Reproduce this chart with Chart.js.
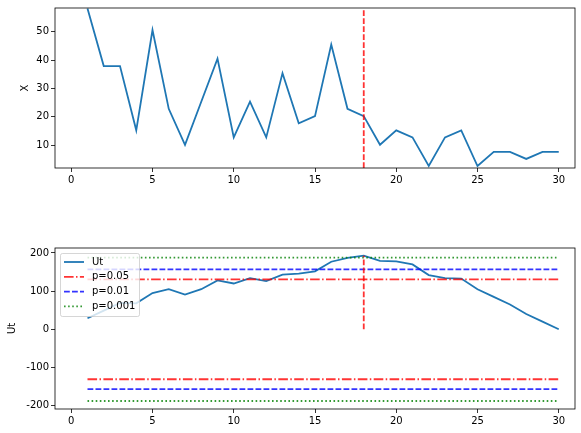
<!DOCTYPE html>
<html>
<head>
<meta charset="utf-8">
<script src="https://cdn.jsdelivr.net/npm/chart.js@4.4.0/dist/chart.umd.min.js"></script>
<style>
html, body { margin: 0; padding: 0; background: #fff; }
#wrap { position: relative; width: 581px; height: 433px; }
canvas { position: absolute; left: 0; }
#topChart { top: 0; }
#bottomChart { top: 215px; }
</style>
</head>
<body>
<div id="wrap">
    <canvas id="topChart" width="581" height="215"></canvas>
    <canvas id="bottomChart" width="581" height="218"></canvas>
</div>
<script>
// data
const t = [1, 2, 3, 4, 5, 6, 7, 8, 9, 10, 11, 12, 13, 14, 15, 16, 17, 18, 19, 20, 21, 22, 23, 24, 25, 26, 27, 28, 29, 30];
const xValues = [58.2, 37.9, 37.9, 15.2, 50.6, 22.8, 10.1, 25.3, 40.5, 12.7, 25.3, 12.7, 35.4, 17.7, 20.2,
                 45.5, 22.8, 20.2, 10.1, 15.2, 12.7, 2.6, 12.7, 15.2, 2.6, 7.6, 7.6, 5.1, 7.6, 7.6];
const utValues = [29, 49, 69, 68, 95, 105, 91, 105, 128, 120, 134, 126, 143, 146, 152,
                  177, 187, 193, 179, 178, 170, 142, 134, 133, 105, 85, 65, 40, 20, 0];
const changePoint = 18;
const pLabels = ["p=0.05", "p=0.01", "p=0.001"];
const pLevels = [131, 157, 188];

const xTicks = [0, 5, 10, 15, 20, 25, 30];
const topYTicks = [10, 20, 30, 40, 50];
const bottomYTicks = [-200, -100, 0, 100, 200];

const FONT = "'DejaVu Sans', sans-serif";
const BLUE_LINE = "#1f77b4";
const LW = 1.8;
const pColors = ["rgba(255,0,0,0.8)", "rgba(0,0,255,0.8)", "rgba(0,128,0,0.8)"];
const pDashes = [[9.6, 2.4, 1.5, 2.4], [5.8, 2.2], [1.6, 2.5]];

Chart.defaults.font.family = FONT;
Chart.defaults.font.size = 10;
Chart.defaults.color = "#000";

// frame + axis label, drawn like matplotlib spines
const framePlugin = {
    id: "frame",
    afterDraw(chart, args, opts) {
        const ctx = chart.ctx;
        const a = chart.chartArea;
        ctx.save();
        ctx.strokeStyle = "#000";
        ctx.lineWidth = 0.8;
        ctx.strokeRect(a.left, a.top, a.right - a.left, a.bottom - a.top);
        ctx.translate(opts.labelX, (a.top + a.bottom) / 2);
        ctx.rotate(-Math.PI / 2);
        ctx.font = "10px " + FONT;
        ctx.fillStyle = "#000";
        ctx.textAlign = "center";
        ctx.textBaseline = "middle";
        ctx.fillText(opts.label, 0, 0);
        ctx.restore();
    }
};

// legend box inside the plot (upper left)
const boxLegend = {
    id: "boxLegend",
    afterDraw(chart, args, opts) {
        if (!opts.items) return;
        const ctx = chart.ctx;
        const a = chart.chartArea;
        const x0 = a.left + 5, y0 = a.top + 5, w = 79, h = 63;
        ctx.save();
        ctx.fillStyle = "rgba(255,255,255,0.8)";
        ctx.strokeStyle = "rgba(204,204,204,0.8)";
        ctx.lineWidth = 1;
        ctx.beginPath();
        ctx.roundRect(x0 + 0.5, y0 + 0.5, w, h, 2);
        ctx.fill();
        ctx.stroke();
        ctx.font = "10px " + FONT;
        ctx.textBaseline = "middle";
        opts.items.forEach((it, i) => {
            const y = y0 + 9 + i * 14.8;
            ctx.strokeStyle = it.color;
            ctx.lineWidth = LW;
            ctx.setLineDash(it.dash);
            ctx.beginPath();
            ctx.moveTo(x0 + 4, y);
            ctx.lineTo(x0 + 24, y);
            ctx.stroke();
            ctx.setLineDash([]);
            ctx.fillStyle = "#000";
            ctx.fillText(it.text, x0 + 32, y);
        });
        ctx.restore();
    }
};

function xScale(height) {
    return {
        type: "linear",
        min: -1,
        max: 31,
        afterBuildTicks: s => { s.ticks = xTicks.map(v => ({ value: v })); },
        afterFit: s => { s.height = height; },
        grid: { drawOnChartArea: false, drawTicks: true, tickLength: 4, color: "#000", lineWidth: 0.8 },
        border: { display: false },
        ticks: { padding: 2, maxRotation: 0 }
    };
}

function yScale(min, max, ticks) {
    return {
        type: "linear",
        min: min,
        max: max,
        afterBuildTicks: s => { s.ticks = ticks.map(v => ({ value: v })); },
        afterFit: s => { s.width = 55; },
        grid: { drawOnChartArea: false, drawTicks: true, tickLength: 4, color: "#000", lineWidth: 0.8 },
        border: { display: false },
        ticks: { padding: 2 }
    };
}

function line(data, color, dash, order) {
    return {
        data: data,
        borderColor: color,
        borderWidth: LW,
        borderDash: dash,
        pointRadius: 0,
        tension: 0,
        fill: false,
        order: order
    };
}

const pts = vals => t.map((x, i) => ({ x: x, y: vals[i] }));

const topMin = 1.9, topMax = 58.4;

new Chart("topChart", {
    type: "line",
    data: {
        datasets: [
            line(pts(xValues), BLUE_LINE, [], 2),
            line([{ x: changePoint, y: topMin }, { x: changePoint, y: topMax }], "rgba(255,0,0,0.8)", [5.8, 2.2], 1)
        ]
    },
    options: {
        responsive: false,
        animation: false,
        layout: { padding: { top: 7, right: 6, left: 0, bottom: 0 } },
        scales: { x: xScale(47), y: yScale(topMin, topMax, topYTicks) },
        plugins: {
            legend: { display: false },
            tooltip: { enabled: false },
            frame: { label: "X", labelX: 25 }
        }
    },
    plugins: [framePlugin]
});

const hDatasets = [];
pLevels.forEach((lv, i) => {
    hDatasets.push(line([{ x: t[0], y: lv }, { x: t[t.length - 1], y: lv }], pColors[i], pDashes[i], 3));
    hDatasets.push(line([{ x: t[0], y: -lv }, { x: t[t.length - 1], y: -lv }], pColors[i], pDashes[i], 3));
});

new Chart("bottomChart", {
    type: "line",
    data: {
        datasets: [
            line(pts(utValues), BLUE_LINE, [], 4),
            ...hDatasets,
            line([{ x: changePoint, y: 0 }, { x: changePoint, y: utValues[t.indexOf(changePoint)] }], "rgba(255,0,0,0.8)", [5.8, 2.2], 1)
        ]
    },
    options: {
        responsive: false,
        animation: false,
        layout: { padding: { top: 33, right: 6, left: 0, bottom: 0 } },
        scales: { x: xScale(24), y: yScale(-209, 213, bottomYTicks) },
        plugins: {
            legend: { display: false },
            tooltip: { enabled: false },
            frame: { label: "Ut", labelX: 12 },
            boxLegend: {
                items: [{ text: "Ut", color: BLUE_LINE, dash: [] }].concat(
                    pLabels.map((p, i) => ({ text: p, color: pColors[i], dash: pDashes[i] })))
            }
        }
    },
    plugins: [framePlugin, boxLegend]
});
</script>
</body>
</html>
